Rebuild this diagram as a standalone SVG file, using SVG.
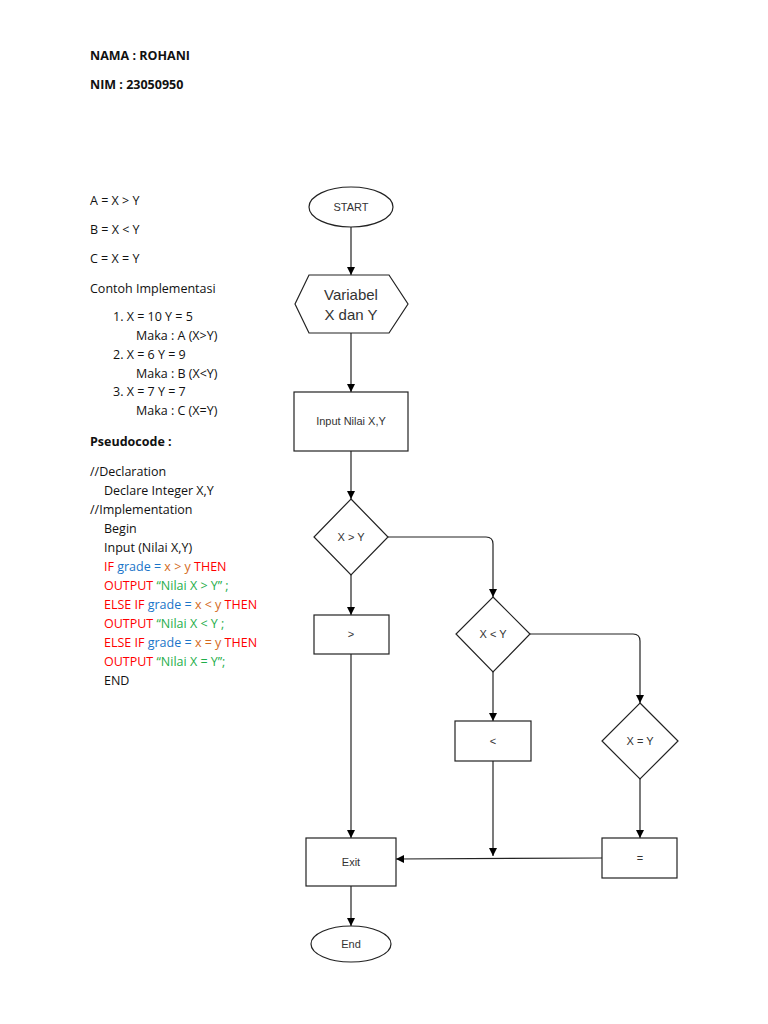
<svg xmlns="http://www.w3.org/2000/svg" width="768" height="1024" viewBox="0 0 768 1024">
<defs>
<marker id="ah" markerWidth="10" markerHeight="10" refX="9" refY="5" orient="auto" markerUnits="userSpaceOnUse">
<path d="M1,1 L9,5 L1,9 Z" fill="#000"/>
</marker>
<style>
.t{font-family:"Open Sans","Liberation Sans",sans-serif;font-size:12.5px;fill:#111}
.b{font-weight:bold}
.n{fill:#fff;stroke:#222;stroke-width:1.2}
.nl{font-family:"Liberation Sans",Arial,sans-serif;font-size:11px;fill:#333;text-anchor:middle}
.c{fill:none;stroke:#222;stroke-width:1.2;marker-end:url(#ah)}
.r{fill:#ff0000}.bl{fill:#1a75c9}.o{fill:#d46a1c}.g{fill:#1fae4b}
</style>
</defs>
<rect width="768" height="1024" fill="#fff"/>
<g id="header">
<text class="t b" x="90" y="60">NAMA  : ROHANI</text>
<text class="t b" x="90" y="89">NIM     : 23050950</text>
</g>
<g id="notes">
<text class="t" x="90" y="205">A = X &gt; Y</text>
<text class="t" x="90" y="234">B = X &lt; Y</text>
<text class="t" x="90" y="263">C = X = Y</text>
<text class="t" x="90" y="293">Contoh Implementasi</text>
<text class="t" x="113" y="321">1.    X = 10    Y = 5</text>
<text class="t" x="136" y="340">Maka : A (X&gt;Y)</text>
<text class="t" x="113" y="359">2.    X = 6      Y = 9</text>
<text class="t" x="136" y="378">Maka : B (X&lt;Y)</text>
<text class="t" x="113" y="396">3.    X = 7      Y = 7</text>
<text class="t" x="136" y="415">Maka : C (X=Y)</text>
<text class="t b" x="90" y="446">Pseudocode :</text>
<text class="t" x="90" y="476">//Declaration</text>
<text class="t" x="104" y="495">Declare Integer X,Y</text>
<text class="t" x="90" y="514">//Implementation</text>
<text class="t" x="104" y="533">Begin</text>
<text class="t" x="104" y="552">Input (Nilai X,Y)</text>
<text class="t" x="104" y="571"><tspan class="r">IF </tspan><tspan class="bl">grade = </tspan><tspan class="o">x &gt; y </tspan><tspan class="r">THEN</tspan></text>
<text class="t" x="104" y="590"><tspan class="r">OUTPUT </tspan><tspan class="g">“Nilai X &gt; Y” ;</tspan></text>
<text class="t" x="104" y="609"><tspan class="r">ELSE IF </tspan><tspan class="bl">grade = </tspan><tspan class="o">x &lt; y </tspan><tspan class="r">THEN</tspan></text>
<text class="t" x="104" y="628"><tspan class="r">OUTPUT </tspan><tspan class="g">“Nilai X &lt; Y ;</tspan></text>
<text class="t" x="104" y="647"><tspan class="r">ELSE IF </tspan><tspan class="bl">grade = </tspan><tspan class="o">x = y </tspan><tspan class="r">THEN</tspan></text>
<text class="t" x="104" y="666"><tspan class="r">OUTPUT </tspan><tspan class="g">“Nilai X = Y”;</tspan></text>
<text class="t" x="104" y="685">END</text>
</g>
<g id="connectors">
<path class="c" d="M351,227 V275"/>
<path class="c" d="M351,333 V392"/>
<path class="c" d="M351,451 V499"/>
<path class="c" d="M351,575 V615"/>
<path class="c" d="M388,537 H486 Q493,537 493,544 V597"/>
<path class="c" d="M351,654 V838"/>
<path class="c" d="M493,672 V721"/>
<path class="c" d="M530,634 H633 Q640,634 640,641 V703"/>
<path class="c" d="M493,761 V856"/>
<path class="c" d="M640,779 V838"/>
<path class="c" d="M602,858 L396,859"/>
<path class="c" d="M351,886 V926"/>
</g>
<g id="start"><ellipse class="n" cx="351" cy="207" rx="42" ry="20"/><text class="nl" x="351" y="211">START</text></g>
<g id="variabel"><polygon class="n" points="295,304 309,275 389,275 408,304 389,333 309,333"/>
<text class="nl" x="351" y="300" style="font-size:15px">Variabel</text><text class="nl" x="351" y="320" style="font-size:15px">X dan Y</text></g>
<g id="input"><rect class="n" x="294" y="392" width="114" height="59"/><text class="nl" x="351" y="425">Input Nilai X,Y</text></g>
<g id="d1"><polygon class="n" points="351,499 388,537 351,575 314,537"/><text class="nl" x="351" y="541">X &gt; Y</text></g>
<g id="gt"><rect class="n" x="314" y="615" width="75" height="39"/><text class="nl" x="351" y="638">&gt;</text></g>
<g id="d2"><polygon class="n" points="493,597 530,634 493,672 456,634"/><text class="nl" x="493" y="638">X &lt; Y</text></g>
<g id="lt"><rect class="n" x="455" y="721" width="76" height="40"/><text class="nl" x="493" y="745">&lt;</text></g>
<g id="d3"><polygon class="n" points="640,703 678,741 640,779 602,741"/><text class="nl" x="640" y="745">X = Y</text></g>
<g id="eq"><rect class="n" x="602" y="838" width="75" height="40"/><text class="nl" x="640" y="862">=</text></g>
<g id="exit"><rect class="n" x="306" y="838" width="90" height="48"/><text class="nl" x="351" y="866">Exit</text></g>
<g id="end"><ellipse class="n" cx="351" cy="944" rx="40" ry="18"/><text class="nl" x="351" y="948">End</text></g>
</svg>
